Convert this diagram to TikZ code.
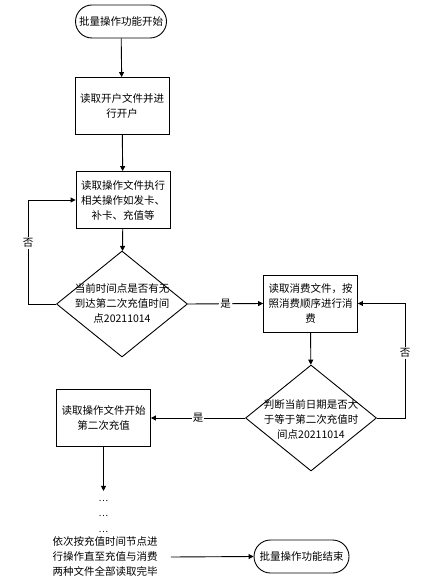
\documentclass[tikz,border=0pt]{standalone}
\usepackage{fontspec}
\newfontfamily\cjk{Noto Sans CJK SC}
\usetikzlibrary{positioning, arrows.meta, shapes.geometric, shapes.misc}

\begin{document}
\begin{tikzpicture}[
  x=1pt, y=-1pt,
  line width=0.9pt,
  every node/.style={font=\cjk\fontsize{10.5}{15}\selectfont, align=center},
  stepbox/.style={draw, rectangle, minimum width=94pt, minimum height=57pt, inner sep=1pt},
  endbox/.style={draw, rounded rectangle, minimum width=93pt, minimum height=33pt, inner sep=1pt},
  decide/.style={draw, diamond, minimum width=131pt, minimum height=106pt, inner sep=0pt},
  flow/.style={-{Triangle[length=5pt,width=5pt]}},
  yesno/.style={fill=white, inner sep=1pt}
]
  \useasboundingbox (0,0) rectangle (435,580);

  \node[endbox] (start) at (121,21.5) {批量操作功能开始};
  \node[stepbox] (open) at (122,106) {读取开户文件并进\\行开户};
  \node[stepbox] (ops) at (123,200) {读取操作文件执行\\相关操作如发卡、\\补卡、充值等};
  \node[decide] (chk1) at (122,304) {};
  \node (chk1txt) at (122,303) {当前时间点是否有无\\到达第二次充值时间\\点20211014};
  \node[stepbox] (spend) at (310.5,303.5) {读取消费文件，按\\照消费顺序进行消\\费};
  \node[decide] (chk2) at (311,418) {};
  \node (chk2txt) at (311,419) {判断当前日期是否大\\于等于第二次充值时\\间点20211014};
  \node[stepbox] (second) at (103.5,418) {读取操作文件开始\\第二次充值};
  \node[inner sep=0pt, font=\cjk\fontsize{9}{15.5}\selectfont] (dots) at (103.5,516) {…\\…\\…};
  \node[inner sep=1pt] (rest) at (105,557) {依次按充值时间节点进\\行操作直至充值与消费\\两种文件全部读取完毕};
  \node[endbox, minimum width=97pt] (stop) at (301.5,556.5) {批量操作功能结束};

  % loop corners and labels
  \coordinate (loopLb) at (28,304);
  \coordinate (loopLt) at (28,200);
  \coordinate (loopRb) at (405,418);
  \coordinate (loopRt) at (405,303.5);
  \node[yesno] (no1) at (28,243) {否};
  \node[yesno] (no2) at (405,353) {否};

  \draw[flow] (start) -- (open);
  \draw[flow] (open) -- (ops);
  \draw[flow] (ops) -- (chk1);
  \draw (chk1.west) -- (loopLb) -- (no1);
  \draw[flow] (no1) -- (loopLt) -- (ops.west);
  \draw[flow] (chk1.east) -- node[yesno] {是} (spend.west);
  \draw[flow] (spend) -- (chk2);
  \draw (chk2.east) -- (loopRb) -- (no2);
  \draw[flow] (no2) -- (loopRt) -- (spend.east);
  \draw[flow] (chk2.west) -- node[yesno] {是} (second.east);
  \draw[flow] (second.south) -- ++(0,44);
  \draw[flow] ([xshift=12pt]rest.east) -- (stop.west);
\end{tikzpicture}
\end{document}
